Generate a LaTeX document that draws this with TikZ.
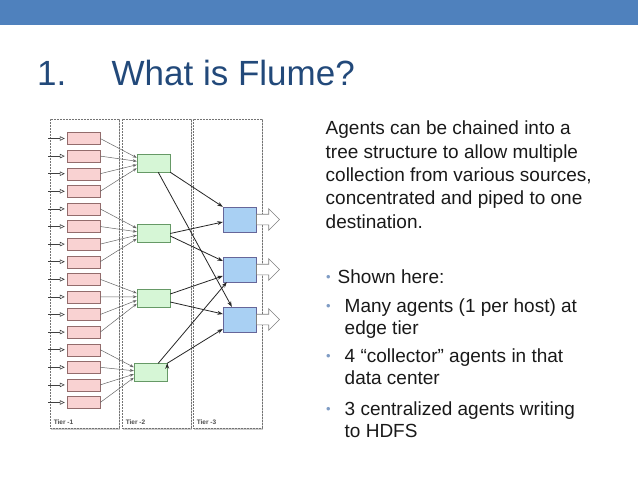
\documentclass[tikz,border=0pt]{standalone}
\usepackage{fontspec}
\setmainfont{Liberation Sans}
\usetikzlibrary{arrows.meta, shapes, shadows, positioning}

\definecolor{barblue}{HTML}{4F81BD}
\definecolor{titleblue}{HTML}{22497A}
\definecolor{dotblue}{HTML}{7F9CC4}
\definecolor{agentred}{HTML}{F9D2D2}
\definecolor{agentgreen}{HTML}{D6F6D6}
\definecolor{agentblue}{HTML}{A9D0F3}

\begin{document}
\begin{tikzpicture}[x=1pt,y=-1pt,
	tier/.style={draw=black!55, line width=0.8pt, dash pattern=on 2pt off 1pt, fill=white, minimum width=69pt, minimum height=309pt, inner sep=0pt, drop shadow={shadow xshift=1pt, shadow yshift=-1.5pt, fill=black!40}},
	tier label/.style={font=\fontsize{6.5}{7}\selectfont\bfseries, text=black!70, inner sep=0pt},
	edge agent/.style={draw=red!15!gray, fill=agentred, minimum width=33pt, minimum height=12pt, inner sep=0pt},
	collector/.style={draw=green!20!gray, fill=agentgreen, minimum width=33pt, minimum height=18pt, inner sep=0pt},
	central/.style={draw=blue!20!gray, fill=agentblue, minimum width=33pt, minimum height=25pt, inner sep=0pt},
	sink/.style={single arrow, draw=black!50, line width=0.6pt, fill=white, minimum height=23pt, inner xsep=0pt, inner ysep=5pt, single arrow head extend=5.5pt},
	feed/.style={-{Triangle[open, length=5pt, width=4.5pt]}, draw=black!75, line width=0.6pt, shorten >=2pt},
	gather/.style={-{Stealth[length=4pt, width=3pt]}, draw=black!60, line width=0.5pt},
	forward/.style={-{Stealth[length=5.5pt, width=4pt]}, draw=black!85, line width=0.8pt},
	title/.style={font=\fontsize{35}{40}\selectfont, text=titleblue, inner sep=0pt},
	body/.style={font=\fontsize{19}{23.3}\selectfont, text=black!90, align=left, inner sep=0pt},
	item/.style={font=\fontsize{19}{22.5}\selectfont, text=black!90, align=left, inner sep=0pt},
	dot/.style={font=\fontsize{13}{14}\selectfont, text=dotblue, inner sep=0pt}]

	\useasboundingbox (0,0) rectangle (638,479);
	\fill[barblue] (0,0) rectangle (638,25);

	\node[title, anchor=base west] (num) at (37,85) {1.};
	\node[title, anchor=base west] (head) at (111.5,85) {What is Flume?};

	% tiers
	\node[tier] (t1) at (84.5,273.5) {};
	\node[tier] (t2) at (156.5,273.5) {};
	\node[tier] (t3) at (227.5,273.5) {};
	\node[tier label, above right=4pt and 4pt of t1.south west] {Tier -1};
	\node[tier label, above right=4pt and 4pt of t2.south west] {Tier -2};
	\node[tier label, above right=4pt and 4pt of t3.south west] {Tier -3};

	% edge agents
	\foreach \i in {1,...,16} {
		\node[edge agent] (r\i) at (83.5,{138.5+17.6*(\i-1)}) {};
		\coordinate (in\i) at (48,{138.5+17.6*(\i-1)});
		\draw[feed] (in\i) -- (r\i);
	}

	% collectors
	\node[collector] (c1) at (153.5,163) {};
	\node[collector] (c2) at (153.5,233.5) {};
	\node[collector] (c3) at (153.5,298.5) {};
	\node[collector] (c4) at (150.5,372.5) {};

	% centralized agents
	\node[central] (h1) at (239.5,219.5) {};
	\node[central] (h2) at (239.5,269.5) {};
	\node[central] (h3) at (239.5,319.5) {};
	\node[sink, right=0pt of h1] (o1) {};
	\node[sink, right=0pt of h2] (o2) {};
	\node[sink, right=0pt of h3] (o3) {};

	\foreach \g in {1,...,4}
		\foreach \j in {1,...,4} {
			\pgfmathtruncatemacro\r{4*(\g-1)+\j}
			\draw[gather] (r\r.east) -- ([yshift={(2.5-\j)*3.5pt}]c\g.west);
		}

	\path[forward] (c1.south east) edge (h1.north west)
	([xshift=-12pt]c1.south east) edge ([xshift=9pt]h3.north west)
	(c2.east) edge ([yshift=-2.5pt]h1.west)
	([yshift=-2.5pt]c2.east) edge ([yshift=8.5pt]h2.west)
	([yshift=4.5pt]c3.east) edge ([yshift=-6.5pt]h2.west)
	([yshift=-3.5pt]c3.east) edge ([yshift=5.5pt]h3.west)
	([xshift=-9pt]c4.north east) edge ([xshift=4pt]h2.south west)
	(c4.north east) edge ([yshift=-9.5pt]h3.west);

	% text
	\node[body, anchor=north west] (intro) at (325.5,121) {Agents can be chained into a\\tree structure to allow multiple\\collection from various sources,\\concentrated and piped to one\\destination.};
	\node[dot] (d1) at (328.5,278.5) {\textbullet};
	\node[item, anchor=base west] (i1) at (337.5,283) {Shown here:};
	\node[dot] (d2) at (328.5,307) {\textbullet};
	\node[item, anchor=north west] (i2) at (344.5,298.2) {Many agents (1 per host) at\\edge tier};
	\node[dot] (d3) at (328.5,357) {\textbullet};
	\node[item, anchor=north west] (i3) at (344.5,348.2) {4 “collector” agents in that\\data center};
	\node[dot] (d4) at (328.5,410) {\textbullet};
	\node[item, anchor=north west] (i4) at (344.5,401.2) {3 centralized agents writing\\to HDFS};
\end{tikzpicture}
\end{document}
